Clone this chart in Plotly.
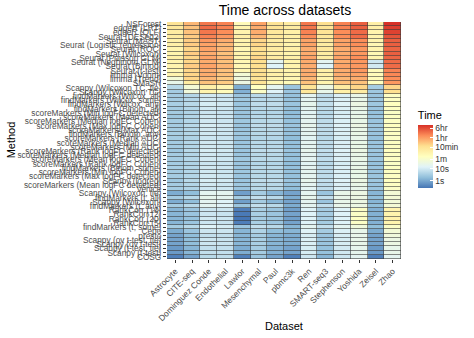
import plotly.graph_objects as go

datasets = ["Astrocyte", "CITE-seq", "Dominguez Conde", "Endothelial", "Lawlor",
            "Mesenchymal", "Paul", "pbmc3k", "Ren", "SMART-seq3", "Stephenson",
            "Yoshida", "Zeisel", "Zhao"]

methods = [
    "NSForest", "edgeR (LRT)", "edgeR (QLF)", "Seurat (DESeq2)", "Seurat (MAST)",
    "Seurat (Logistic regression)", "Seurat (ROC)", "Seurat (Wilcoxon)", "Seurat (Poisson GLM)",
    "Seurat (Negbinom GLM)", "Seurat (Bimod)", "Seurat (t-test)", "limma (Voom)", "limma (Trend)",
    "SMaSH", "Scanpy (Wilcoxon TC, tie)", "Scanpy (Wilcoxon TC)", "findMarkers (Wilcox, all)",
    "findMarkers (Wilcox, some)", "findMarkers (Wilcox, any)", "findMarkers (Binom, all)",
    "scoreMarkers (Min logFC detected)", "scoreMarkers (Mean AUC)", "scoreMarkers (Median logFC Cohen)",
    "scoreMarkers (Max logFC Cohen)", "scoreMarkers (Max AUC)", "findMarkers (Binom, any)",
    "scoreMarkers (Rank AUC)", "scoreMarkers (Median AUC)", "scoreMarkers (Min AUC)",
    "scoreMarkers (Rank logFC detected)", "scoreMarkers (Median logFC detected)",
    "scoreMarkers (Mean logFC Cohen)", "scoreMarkers (Rank logFC Cohen)", "findMarkers (Binom, some)",
    "scoreMarkers (Min logFC Cohen)", "scoreMarkers (Max logFC detected)", "Scanpy (logreg)",
    "scoreMarkers (Mean logFC detected)", "Venice", "Scanpy (Wilcoxon, tie)", "findMarkers (t, all)",
    "Scanpy (Wilcoxon)", "findMarkers (t, any)", "RankCorr (10)", "RankCorr (2)", "RankCorr (20)",
    "RankCorr (5)", "findMarkers (t, some)", "Cepo", "presto", "Scanpy (ov t-test, tie)",
    "Scanpy (ov t-test)", "Scanpy (t-test, tie)", "Scanpy (t-test)", "COSG",
]

# run time, log10(seconds), one list per dataset, in method order
astrocyte = [2.76, 2.65, 2.54, 2.54, 2.44, 2.44, 2.33, 2.33, 2.44, 2.33, 2.33, 2.22, 2.33, 1.68, 1.36,
             0.71, 0.50,
             0.50, 0.50, 0.55, 0.50, 0.50, 0.44, 0.50, 0.50, 0.50, 0.55, 0.50, 0.50, 0.50, 0.44, 0.50, 0.50, 0.50, 0.55, 0.50, 0.50, 0.44, 0.50,
             0.50, 0.07, 0.50, 0.07, 0.50, 0.18, 0.18, 0.18, 0.18, 0.50, 0.07, -0.04, -0.04, -0.04, -0.15, -0.15, -0.45]
cite_seq = [3.30, 3.19, 3.19, 3.08, 3.08, 3.08, 2.98, 3.08, 2.98, 2.98, 3.08, 2.98, 2.98, 2.98, 2.54,
            1.68, 1.58,
            0.66, 0.66, 0.71, 0.66, 0.61, 0.66, 0.66, 0.71, 0.66, 0.66, 0.61, 0.66, 0.66, 0.71, 0.66, 0.66, 0.61, 0.66, 0.66, 0.66, 0.71, 0.66,
            0.61, 0.28, 0.71, 0.28, 0.71, 0.39, 0.39, 0.34, 0.39, 0.71, 0.39, 0.28, 0.28, 0.28, 0.18, 0.18, -0.04]
dominguez_conde = [3.94, 4.05, 3.94, 3.84, 3.62, 3.51, 3.51, 3.41, 3.51, 3.41, 3.51, 3.41, 3.41, 3.30, 3.19,
                   2.44, 2.33,
                   0.98, 0.98, 1.04, 0.98, 0.93, 0.98, 0.98, 1.04, 0.98, 0.98, 0.93, 0.98, 0.98, 1.04, 0.98, 0.98, 0.93, 0.98, 0.98, 0.98, 1.04, 0.98,
                   0.93, 1.25, 1.31, 1.25, 1.25, 0.93, 0.93, 0.98, 0.93, 1.14, 0.93, 0.82, 0.93, 0.93, 0.82, 0.82, 0.71]
endothelial = [3.84, 3.84, 3.73, 3.62, 3.41, 3.30, 3.30, 3.19, 3.30, 3.19, 3.30, 3.19, 3.19, 3.08, 3.08,
               2.22, 2.11,
               0.93, 0.93, 0.98, 0.93, 0.88, 0.93, 0.93, 0.98, 0.93, 0.93, 0.88, 0.93, 0.93, 0.98, 0.93, 0.93, 0.88, 0.93, 0.93, 0.93, 0.98, 0.93,
               0.93, 1.25, 1.25, 1.14, 1.14, 0.93, 0.88, 0.93, 0.88, 1.04, 0.93, 0.82, 0.88, 0.88, 0.82, 0.82, 0.77]
lawlor = [2.11, 2.33, 2.33, 2.44, 2.33, 2.33, 2.22, 2.33, 2.33, 2.22, 2.22, 2.22, 1.68, 1.58, 1.47,
          0.07, 0.12,
          0.39, 0.44, 0.39, 0.44, 0.39, 0.39, 0.44, 0.39, 0.39, 0.44, 0.39, 0.39, 0.44, 0.39, 0.39, 0.44, 0.39, 0.39, 0.44, 0.39, 0.39, 0.44,
          0.39, -0.09, 0.50, -0.09, 0.39, -0.47, -0.52, -0.58, -0.47, 0.39, 0.18, 0.18, 0.18, 0.18, 0.07, 0.07, -0.45]
mesenchymal = [3.51, 3.41, 3.41, 3.30, 2.98, 2.98, 2.87, 2.87, 2.98, 2.87, 2.87, 2.87, 2.87, 2.76, 2.76,
               2.00, 1.90,
               0.71, 0.71, 0.77, 0.71, 0.66, 0.71, 0.71, 0.77, 0.71, 0.71, 0.66, 0.71, 0.71, 0.77, 0.71, 0.71, 0.66, 0.71, 0.71, 0.71, 0.77, 0.71,
               0.71, 0.50, 0.82, 0.50, 0.82, 0.55, 0.55, 0.50, 0.55, 0.82, 0.61, 0.50, 0.55, 0.55, 0.50, 0.50, 0.39]
paul = [2.76, 2.76, 2.65, 2.65, 2.54, 2.54, 2.54, 2.44, 2.54, 1.25, 1.14, 2.44, 2.44, 2.33, 2.22,
        1.25, 1.14,
        0.71, 0.71, 0.77, 0.71, 0.66, 0.71, 0.71, 0.77, 0.71, 0.71, 0.66, 0.71, 0.71, 0.77, 0.71, 0.71, 0.66, 0.71, 0.71, 0.71, 0.77, 0.71,
        0.71, 0.18, 0.71, 0.18, 0.71, 0.39, 0.39, 0.39, 0.39, 0.71, 0.28, 0.18, 0.18, 0.18, 0.12, 0.12, -0.04]
pbmc3k = [2.54, 2.54, 2.44, 2.44, 2.44, 2.33, 2.44, 2.33, 2.44, 2.33, 2.33, 2.33, 2.33, 2.22, 2.11,
          0.39, 0.39,
          0.34, 0.34, 0.39, 0.34, 0.28, 0.34, 0.34, 0.39, 0.34, 0.34, 0.28, 0.34, 0.34, 0.39, 0.34, 0.34, 0.28, 0.34, 0.34, 0.34, 0.39, 0.34,
          0.28, -0.04, 0.07, -0.04, 0.07, -0.09, -0.04, -0.09, -0.04, 0.18, 0.18, 0.07, 0.07, 0.07, -0.04, -0.04, -0.45]
ren = [3.94, 3.94, 3.84, 3.73, 3.51, 3.51, 3.41, 3.41, 3.51, 3.41, 3.41, 3.41, 3.41, 3.30, 3.19,
       2.76, 2.65,
       1.25, 1.25, 1.31, 1.25, 1.20, 1.25, 1.25, 1.31, 1.25, 1.25, 1.20, 1.25, 1.25, 1.31, 1.25, 1.25, 1.20, 1.25, 1.25, 1.25, 1.31, 1.25,
       1.20, 1.25, 1.31, 1.25, 1.25, 1.14, 1.14, 1.14, 1.14, 1.25, 1.14, 1.04, 1.09, 1.09, 1.04, 1.04, 0.93]
smart_seq3 = [2.87, 2.76, 2.76, 2.65, 2.65, 2.54, 2.65, 2.54, 2.54, 1.25, 1.14, 2.44, 2.44, 2.33, 2.33,
              1.47, 1.36,
              0.77, 0.77, 0.82, 0.77, 0.71, 0.77, 0.77, 0.82, 0.77, 0.77, 0.71, 0.77, 0.77, 0.82, 0.77, 0.77, 0.71, 0.77, 0.77, 0.77, 0.82, 0.77,
              0.77, 0.39, 0.82, 0.39, 0.82, 0.50, 0.50, 0.50, 0.50, 0.82, 0.50, 0.39, 0.39, 0.39, 0.34, 0.34, 0.18]
stephenson = [3.84, 3.84, 3.73, 3.73, 3.51, 3.51, 3.41, 3.41, 3.51, 3.41, 3.51, 3.41, 3.41, 3.30, 3.19,
              2.54, 2.44,
              1.09, 1.09, 1.14, 1.09, 1.04, 1.09, 1.09, 1.14, 1.09, 1.09, 1.04, 1.09, 1.09, 1.14, 1.09, 1.09, 1.04, 1.09, 1.09, 1.09, 1.14, 1.09,
              1.09, 1.36, 1.36, 1.36, 1.36, 1.14, 1.14, 1.14, 1.14, 1.25, 1.09, 1.04, 1.04, 1.04, 0.98, 0.98, 0.93]
yoshida = [4.16, 4.16, 4.05, 4.05, 3.73, 3.73, 3.62, 3.62, 3.73, 3.62, 3.62, 3.62, 3.51, 3.41, 3.19,
           2.98, 2.54,
           1.41, 1.41, 1.47, 1.41, 1.36, 1.41, 1.41, 1.47, 1.41, 1.41, 1.36, 1.41, 1.41, 1.47, 1.41, 1.41, 1.36, 1.41, 1.41, 1.41, 1.47, 1.41,
           1.36, 1.47, 1.47, 1.47, 1.47, 1.90, 1.90, 1.95, 1.90, 1.58, 1.36, 1.36, 1.36, 1.36, 1.31, 1.31, 1.25]
zeisel = [2.44, 2.44, 2.33, 2.33, 2.33, 2.22, 2.33, 2.22, 2.33, 0.93, 0.98, 2.11, 2.11, 2.11, 2.00,
          0.50, 0.44,
          0.39, 0.39, 0.44, 0.39, 0.34, 0.39, 0.39, 0.44, 0.39, 0.39, 0.34, 0.39, 0.39, 0.44, 0.39, 0.39, 0.34, 0.39, 0.39, 0.39, 0.44, 0.39,
          0.39, 0.18, 0.28, 0.18, 0.28, 0.12, 0.12, 0.12, 0.12, 0.28, 0.07, -0.04, -0.04, -0.04, -0.15, -0.15, -0.45]
zhao = [4.60, 4.48, 4.43, 4.27, 4.16, 4.16, 4.11, 4.16, 4.11, 4.05, 4.05, 3.84, 3.78, 3.73, 3.62,
        2.98, 2.87,
        1.95, 1.95, 2.00, 1.95, 1.90, 1.95, 1.95, 2.00, 1.95, 1.95, 1.90, 1.95, 1.95, 2.00, 1.95, 1.95, 1.90, 1.95, 1.95, 1.95, 2.00, 1.95,
        1.90, 1.68, 1.68, 1.63, 1.68, 2.33, 2.33, 2.38, 2.33, 1.90, 1.68, 1.58, 1.47, 1.47, 1.36, 1.36, 1.25]

columns = [astrocyte, cite_seq, dominguez_conde, endothelial, lawlor, mesenchymal, paul,
           pbmc3k, ren, smart_seq3, stephenson, yoshida, zeisel, zhao]

tick_labels = ["6hr", "1hr", "10min", "1m", "10s", "1s"]
tick_values = [4.334, 3.556, 2.778, 1.778, 1.0, 0.0]  # log10 of 21600, 3600, 600, 60, 10, 1 s

z = [[col[i] for col in columns] for i in range(len(methods))]

colorscale = [[0.0, "#4575b4"], [1/6, "#91bfdb"], [2/6, "#e0f3f8"], [3/6, "#ffffbf"],
              [4/6, "#fee090"], [5/6, "#fc8d59"], [1.0, "#d73027"]]

W, H = 474, 338
L, R, T, B = 167, 71, 22, 79
pw, ph = W - L - R, H - T - B
FONT = "Liberation Sans, Arial, sans-serif"

fig = go.Figure(go.Heatmap(
    z=z, x=datasets, y=methods, colorscale=colorscale,
    xgap=0.6, ygap=0.6,
    colorbar=dict(
        title=dict(text="Time", side="top", font=dict(size=11, color="black", family=FONT)),
        tickvals=tick_values, ticktext=tick_labels,
        tickfont=dict(size=8.5, color="#333333", family=FONT),
        ticks="inside", ticklen=3, tickcolor="white",
        thickness=15, len=80, lenmode="pixels",
        x=1 + (420 - (L + pw)) / pw, xanchor="left", xpad=0,
        y=(H - B - 148) / ph, yanchor="middle", ypad=0,
        outlinewidth=0,
    ),
))

fig.update_layout(
    width=W, height=H,
    margin=dict(l=L, r=R, t=T, b=B),
    paper_bgcolor="white", plot_bgcolor="#3d3d3d",
    font=dict(family=FONT),
    title=dict(text="Time across datasets", x=(L + pw / 2) / W, xanchor="center",
               y=1 - 10 / H, yanchor="middle", font=dict(size=14, color="black")),
    xaxis=dict(tickangle=-45, tickfont=dict(size=8.5, color="#4d4d4d"),
               tickmode="linear", dtick=1,
               ticks="outside", ticklen=3, tickcolor="#333333", showgrid=False,
               zeroline=False, showline=False),
    yaxis=dict(autorange="reversed", tickfont=dict(size=8.3, color="#4d4d4d"),
               tickmode="linear", dtick=1,
               ticks="outside", ticklen=3, tickcolor="#333333", showgrid=False,
               zeroline=False, showline=False),
    annotations=[
        dict(text="Dataset", x=0.5, y=-(326 - (H - B)) / ph, xref="paper", yref="paper",
             showarrow=False, font=dict(size=11, color="black"), xanchor="center", yanchor="middle"),
        dict(text="Method", x=(10 - L) / pw, y=(H - B - 140) / ph, xref="paper", yref="paper",
             showarrow=False, textangle=-90, font=dict(size=11, color="black"),
             xanchor="center", yanchor="middle"),
    ],
)

fig.write_html("out.html")
